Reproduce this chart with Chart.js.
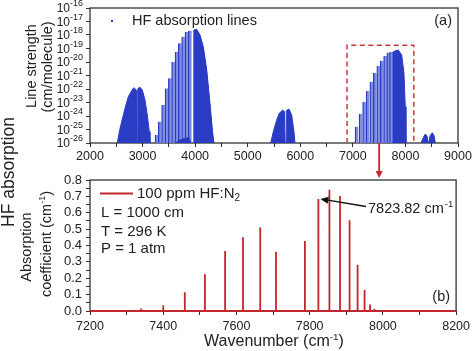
<!DOCTYPE html>
<html>
<head>
<meta charset="utf-8">
<script src="https://cdn.jsdelivr.net/npm/chart.js@4.4.1/dist/chart.umd.min.js"></script>
<style>
  body { margin: 0; background: #fff; }
  #wrap { position: relative; width: 474px; height: 351px; font-family: 'Liberation Sans', Arial, sans-serif; color: #222; }
  canvas { position: absolute; left: 0; }
  .vt { position: absolute; transform: translate(-50%, -50%) rotate(-90deg); white-space: nowrap; line-height: 1; }
  .ht { position: absolute; transform: translate(-50%, -50%); white-space: nowrap; line-height: 1; }
  sup { font-size: 0.62em; vertical-align: 0.6em; line-height: 0; }
</style>
</head>
<body>
<div id="wrap">
  <canvas id="chart-top" width="474" height="168" style="top:0"></canvas>
  <canvas id="chart-bot" width="474" height="183" style="top:168px"></canvas>
  <div class="vt" style="left:9px;top:172px;font-size:17.5px">HF absorption</div>
  <div class="vt" style="left:31px;top:66px;font-size:14.5px">Line strength</div>
  <div class="vt" style="left:47px;top:67px;font-size:14.5px">(cm/molecule)</div>
  <div class="vt" style="left:26px;top:247px;font-size:14.5px">Absorption</div>
  <div class="vt" style="left:46px;top:244px;font-size:14.5px">coefficient (cm<sup>-1</sup>)</div>
  <div class="ht" style="left:274px;top:341px;font-size:16px">Wavenumber (cm<sup>-1</sup>)</div>
</div>
<script>
/* ─── Top panel data (line strength, cm/molecule) ─────────── */
const TOP_X_RANGE = [2000, 9000];
const TOP_X_TICKS = [2000, 2500, 3000, 3500, 4000, 4500, 5000, 5500, 6000, 6500, 7000, 7500, 8000, 8500, 9000];
const TOP_Y_EXP   = [-26, -25, -24, -23, -22, -21, -20, -19, -18, -17, -16];

// resolved P-branch lines
const FUND_P_WN = [3269, 3331, 3394, 3459, 3522, 3584, 3649, 3712, 3775, 3839, 3902];
const FUND_P_S  = [3.9e-26, 3.8e-25, 6.5e-24, 1.1e-22, 6.2e-22, 1.0e-20, 5.8e-20, 2.5e-19, 7.4e-19, 1.7e-18, 2.1e-18];
const OVT_P_WN  = [7073, 7149, 7217, 7284, 7354, 7421, 7487, 7554, 7617, 7678, 7729];
const OVT_P_S   = [1.6e-25, 1.4e-24, 1.15e-23, 7.1e-23, 3.5e-22, 1.55e-21, 5.0e-21, 1.26e-20, 2.75e-20, 4.9e-20, 5.5e-20];

// dense bands (envelopes)
const BAND1A_WN = [2519, 2571, 2666, 2729, 2812, 2837, 2875, 2890, 2891];
const BAND1A_S  = [1e-26, 1.2e-25, 3.7e-24, 2.7e-23, 1.0e-22, 1.26e-22, 8.5e-23, 6.5e-23, 1e-26];
const BAND1B_WN = [2910, 2911, 2951, 2995, 3046, 3090, 3128, 3141];
const BAND1B_S  = [1e-26, 1.1e-22, 1.35e-22, 8.5e-23, 1.55e-23, 1.2e-24, 6.9e-26, 1e-26];
const FUND_R_WN = [3975, 3976, 4030, 4092, 4155, 4220, 4282, 4333, 4358];
const FUND_R_S  = [1e-26, 2.3e-18, 2.6e-18, 1.0e-18, 1.35e-19, 2.6e-21, 9.1e-24, 5.5e-26, 1e-26];
const HOT_WN    = [3630, 3700, 3800, 3880, 3920];
const HOT_S     = [1e-26, 1.6e-26, 2.2e-26, 2.5e-26, 1e-26];
const BAND3A_WN = [5437, 5487, 5551, 5601, 5666, 5697, 5712];
const BAND3A_S  = [1e-26, 6.9e-26, 5.0e-25, 1.6e-24, 2.75e-24, 2.2e-24, 1e-26];
const BAND3B_WN = [5732, 5733, 5785, 5836, 5880, 5899];
const BAND3B_S  = [1e-26, 2.5e-24, 3.3e-24, 1.2e-24, 6.9e-26, 1e-26];
const OVT_R_WN  = [7762, 7763, 7801, 7864, 7929, 7972, 7997, 8010];
const OVT_R_S   = [1e-26, 5.5e-20, 6.5e-20, 7.8e-20, 3.3e-20, 1.55e-21, 4.9e-24, 1e-26];
const BAND5A_WN = [8296, 8340, 8372, 8410, 8430];
const BAND5A_S  = [1e-26, 2.5e-26, 4.4e-26, 3.5e-26, 1e-26];
const BAND5B_WN = [8440, 8470, 8511, 8545, 8568];
const BAND5B_S  = [1e-26, 3.5e-26, 5.8e-26, 3.5e-26, 1e-26];

const ZOOM_BOX  = [6890, 8160, 1.75e-19];   // x from, x to, top
const ARROW_WN  = 7500;

/* ─── Bottom panel data (absorption coefficient, cm-1) ───── */
const BOT_X_RANGE = [7200, 8200];
const BOT_Y_RANGE = [0, 0.8];
const ABS_WN = [7340, 7400, 7459, 7514, 7569, 7618, 7665, 7708, 7787, 7823.82, 7854, 7883, 7909, 7931, 7950, 7965, 7977];
const ABS_K  = [0.015, 0.035, 0.115, 0.224, 0.366, 0.45, 0.51, 0.362, 0.427, 0.684, 0.74, 0.702, 0.554, 0.283, 0.128, 0.04, 0.012];
const PEAK_WN = 7823.82;
const PEAK_K  = 0.684;

/* ─── Styles ──────────────────────────────────────────────── */
const FONT   = "'Liberation Sans', Arial, sans-serif";
const INK    = '#222';
const AXIS   = '#333';
const BLUE   = '#2a3bc4';
const BLUE_L = '#7f8de2';
const RED    = '#c4262e';

/* ─── Helpers ─────────────────────────────────────────────── */
function pts(wn, vals) { return wn.map((x, i) => ({ x, y: vals[i] })); }

function envelopes(list) {
  const out = [];
  list.forEach(([w, s]) => {
    out.push(...pts(w, s));
    out.push({ x: w[w.length - 1] + 1, y: null });
  });
  return out;
}

const frame = {
  id: 'frame',
  beforeDatasetsDraw(chart) {
    const { ctx, chartArea: a } = chart;
    ctx.save();
    ctx.strokeStyle = AXIS;
    ctx.lineWidth = 1.3;
    ctx.strokeRect(a.left, a.top, a.right - a.left, a.bottom - a.top);
    ctx.restore();
  },
};

function text(ctx, s, x, y, size, align) {
  ctx.font = `${size}px ${FONT}`;
  ctx.textAlign = align || 'left';
  ctx.fillText(s, x, y);
  return ctx.measureText(s).width;
}

/* ─── Top chart ───────────────────────────────────────────── */
const topDecor = {
  id: 'topDecor',
  afterDraw(chart) {
    const { ctx, chartArea: a, scales: { x, y } } = chart;
    ctx.save();
    ctx.fillStyle = INK;
    ctx.textBaseline = 'middle';

    // log tick labels 10^n
    TOP_Y_EXP.forEach(e => {
      const py = y.getPixelForValue(Math.pow(10, e));
      ctx.font = `9px ${FONT}`;
      const ew = ctx.measureText(String(e)).width;
      text(ctx, String(e), 83 - ew, py - 4, 9);
      text(ctx, '10', 83 - ew, py + 1, 12, 'right');
    });

    // legend
    ctx.fillStyle = BLUE;
    ctx.fillRect(111, 20, 2, 2);
    ctx.fillStyle = INK;
    text(ctx, 'HF absorption lines', 132, 21, 14.5);
    text(ctx, '(a)', a.right - 6, 21, 14.5, 'right');

    // dashed zoom box
    const x0 = x.getPixelForValue(ZOOM_BOX[0]);
    const x1 = x.getPixelForValue(ZOOM_BOX[1]);
    const yt = y.getPixelForValue(ZOOM_BOX[2]);
    ctx.strokeStyle = '#c8383c';
    ctx.lineWidth = 1.5;
    ctx.setLineDash([5, 3.5]);
    ctx.beginPath();
    ctx.moveTo(x0, a.bottom); ctx.lineTo(x0, yt); ctx.lineTo(x1, yt); ctx.lineTo(x1, a.bottom);
    ctx.stroke();
    ctx.setLineDash([]);

    // arrow stem towards panel (b)
    const px = x.getPixelForValue(ARROW_WN);
    ctx.strokeStyle = RED;
    ctx.lineWidth = 1.8;
    ctx.beginPath();
    ctx.moveTo(px, a.bottom); ctx.lineTo(px, chart.height);
    ctx.stroke();
    ctx.restore();
  },
};

const topChart = new Chart(document.getElementById('chart-top'), {
  type: 'line',
  data: {
    datasets: [
      {
        type: 'line',
        data: envelopes([
          [BAND1A_WN, BAND1A_S], [BAND1B_WN, BAND1B_S], [FUND_R_WN, FUND_R_S], [HOT_WN, HOT_S],
          [BAND3A_WN, BAND3A_S], [BAND3B_WN, BAND3B_S], [OVT_R_WN, OVT_R_S],
          [BAND5A_WN, BAND5A_S], [BAND5B_WN, BAND5B_S],
        ]),
        borderColor: BLUE,
        backgroundColor: BLUE,
        borderWidth: 1,
        pointRadius: 0,
        fill: 'start',
        spanGaps: false,
        tension: 0,
        order: 0,
      },
      {
        type: 'bar',
        data: pts(FUND_P_WN, FUND_P_S).concat(pts(OVT_P_WN, OVT_P_S)),
        backgroundColor: BLUE_L,
        borderColor: BLUE,
        borderWidth: { left: 1.3, top: 0, right: 0, bottom: 0 },
        borderSkipped: false,
        barThickness: 3.3,
        grouped: false,
        order: 1,
      },
    ],
  },
  options: {
    responsive: false,
    animation: false,
    events: [],
    layout: { padding: { top: 8, right: 16, left: 0, bottom: 0 } },
    plugins: { legend: { display: false }, tooltip: { enabled: false } },
    scales: {
      x: {
        type: 'linear', min: TOP_X_RANGE[0], max: TOP_X_RANGE[1], offset: false,
        afterBuildTicks: s => { s.ticks = TOP_X_TICKS.map(v => ({ value: v })); },
        afterFit: s => { s.height = 25; },
        ticks: { callback: v => (v % 1000 === 0 ? String(v) : ''), font: { family: FONT, size: 12.5 }, color: INK, padding: 2, maxRotation: 0, autoSkip: false },
        grid: { drawOnChartArea: false, offset: false, tickLength: 4, color: AXIS },
        border: { display: false },
      },
      y: {
        type: 'logarithmic', min: 1e-26, max: 1e-16,
        afterBuildTicks: s => { s.ticks = TOP_Y_EXP.map(e => ({ value: Math.pow(10, e) })); },
        afterFit: s => { s.width = 90; },
        ticks: { display: false },
        grid: { drawOnChartArea: false, tickLength: 4, color: AXIS },
        border: { display: false },
      },
    },
  },
  plugins: [frame, topDecor],
});

/* ─── Bottom chart ────────────────────────────────────────── */
const spectrum = [{ x: BOT_X_RANGE[0], y: 0 }];
ABS_WN.forEach((w, i) => { spectrum.push({ x: w, y: 0 }, { x: w, y: ABS_K[i] }, { x: w, y: 0 }); });
spectrum.push({ x: BOT_X_RANGE[1], y: 0 });

const botDecor = {
  id: 'botDecor',
  afterDraw(chart) {
    const { ctx, chartArea: a, scales: { x, y } } = chart;
    ctx.save();
    ctx.fillStyle = INK;
    ctx.textBaseline = 'middle';

    // legend + conditions
    ctx.strokeStyle = RED;
    ctx.lineWidth = 2;
    ctx.beginPath(); ctx.moveTo(a.left + 10, a.top + 13.5); ctx.lineTo(a.left + 43, a.top + 13.5); ctx.stroke();
    const lx = a.left + 47;
    const w = text(ctx, '100 ppm HF:N', lx, a.top + 13.5, 15);
    text(ctx, '2', lx + w, a.top + 18, 10);
    text(ctx, 'L = 1000 cm', a.left + 11, a.top + 33, 15);
    text(ctx, 'T = 296 K',   a.left + 11, a.top + 51.5, 15);
    text(ctx, 'P = 1 atm',   a.left + 11, a.top + 69, 15);
    text(ctx, '(b)', a.right - 6, a.bottom - 14, 14.5, 'right');

    // peak annotation
    const tx = a.left + 278, ty = a.top + 29;
    const tw = text(ctx, '7823.82 cm', tx, ty, 14.5);
    text(ctx, '-1', tx + tw + 1, ty - 5, 9.5);
    const hx = x.getPixelForValue(PEAK_WN) + 2, hy = y.getPixelForValue(PEAK_K);
    const sx = tx - 2, sy = ty - 2.5;
    const ang = Math.atan2(sy - hy, sx - hx);
    ctx.strokeStyle = '#111';
    ctx.lineWidth = 1.3;
    ctx.beginPath(); ctx.moveTo(sx, sy); ctx.lineTo(hx + 6 * Math.cos(ang), hy + 6 * Math.sin(ang)); ctx.stroke();
    ctx.fillStyle = '#111';
    ctx.beginPath();
    ctx.moveTo(hx, hy);
    ctx.lineTo(hx + 8 * Math.cos(ang) - 3.5 * Math.sin(ang), hy + 8 * Math.sin(ang) + 3.5 * Math.cos(ang));
    ctx.lineTo(hx + 8 * Math.cos(ang) + 3.5 * Math.sin(ang), hy + 8 * Math.sin(ang) - 3.5 * Math.cos(ang));
    ctx.closePath(); ctx.fill();

    // arrow head from panel (a)
    const px = topChart.scales.x.getPixelForValue(ARROW_WN);
    ctx.strokeStyle = RED;
    ctx.fillStyle = RED;
    ctx.lineWidth = 1.8;
    ctx.beginPath(); ctx.moveTo(px, 0); ctx.lineTo(px, a.top - 8); ctx.stroke();
    ctx.beginPath();
    ctx.moveTo(px, a.top - 2); ctx.lineTo(px - 3.5, a.top - 9); ctx.lineTo(px + 3.5, a.top - 9);
    ctx.closePath(); ctx.fill();
    ctx.restore();
  },
};

new Chart(document.getElementById('chart-bot'), {
  type: 'line',
  data: {
    datasets: [{
      data: spectrum,
      borderColor: RED,
      borderWidth: 1.8,
      pointRadius: 0,
      tension: 0,
      fill: false,
      clip: 4,
    }],
  },
  options: {
    responsive: false,
    animation: false,
    events: [],
    layout: { padding: { top: 12, right: 15, left: 0, bottom: 0 } },
    plugins: { legend: { display: false }, tooltip: { enabled: false } },
    scales: {
      x: {
        type: 'linear', min: BOT_X_RANGE[0], max: BOT_X_RANGE[1], offset: false,
        ticks: { stepSize: 100, callback: v => (v % 200 === 0 ? String(v) : ''), font: { family: FONT, size: 12.5 }, color: INK, padding: 4, maxRotation: 0, autoSkip: false },
        afterFit: s => { s.height = 40; },
        grid: { drawOnChartArea: false, tickLength: 4, color: AXIS },
        border: { display: false },
      },
      y: {
        type: 'linear', min: BOT_Y_RANGE[0], max: BOT_Y_RANGE[1],
        ticks: { stepSize: 0.05, callback: v => (Math.round(v * 100) % 10 === 0 ? v.toFixed(1) : ''), font: { family: FONT, size: 13 }, color: INK, padding: 4, autoSkip: false },
        afterFit: s => { s.width = 90; },
        grid: { drawOnChartArea: false, tickLength: 4, color: AXIS },
        border: { display: false },
      },
    },
  },
  plugins: [frame, botDecor],
});
</script>
</body>
</html>
